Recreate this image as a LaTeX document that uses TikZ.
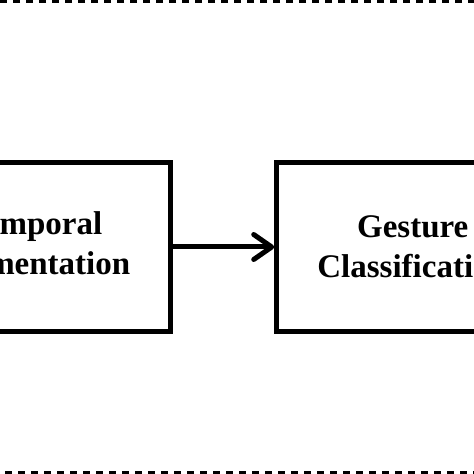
\documentclass[tikz,border=0pt]{standalone}
\usepackage{fontspec}
\setmainfont{Liberation Serif}
\usetikzlibrary{arrows.meta, positioning}

\begin{document}
\begin{tikzpicture}[x=1pt,y=1pt,align=center,node distance=101.7pt]
\tikzstyle{stage}=[rectangle,draw=black,line width=5pt,minimum width=272pt,minimum height=169pt,font=\fontsize{33}{40}\selectfont\bfseries]
\tikzstyle{flow}=[-{Straight Barb[length=18pt,width=25pt,line cap=round,round]},line width=5pt]
\tikzstyle{frame}=[dash pattern=on 7pt off 6pt,line width=3pt]

\useasboundingbox (0,0) rectangle (474,474);

\node[stage] (seg) at (34,227) {Temporal\\Segmentation};
\node[stage] (cls) [right = of seg] {Gesture\\Classification};

\path
  	(seg) edge [flow] (cls);

% dashed outer frame, only top and bottom are in view
\draw[frame] (-200,472.5) rectangle (700,1.5);
\end{tikzpicture}
\end{document}
